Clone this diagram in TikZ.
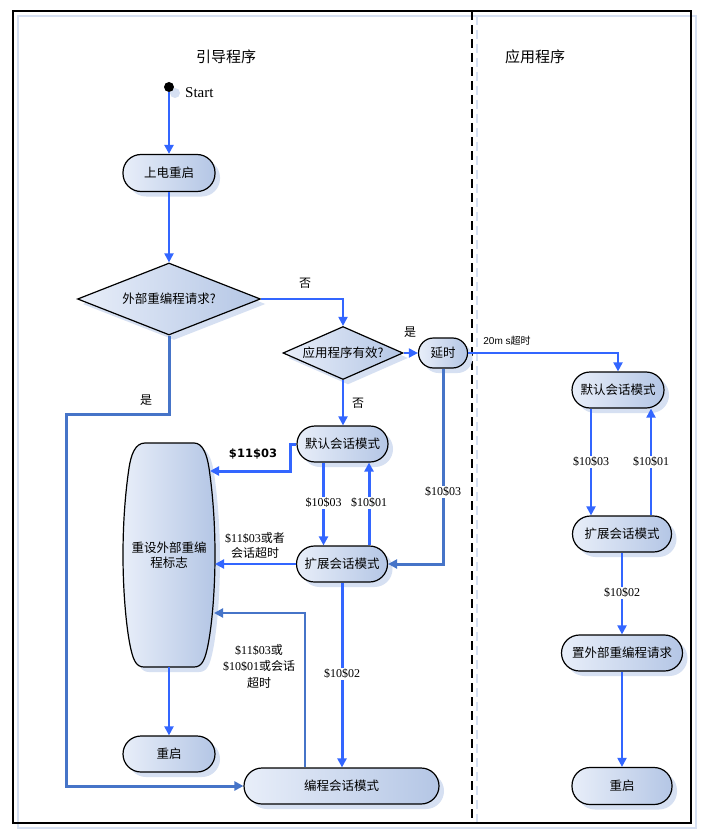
\documentclass[tikz,border=0pt]{standalone}
\usepackage{fontspec}
\setmainfont{Liberation Serif}
\newfontfamily\cjk{Noto Sans CJK SC}
\newfontfamily\dvs{DejaVu Sans}
\newfontfamily\lsans{Liberation Sans}
\usetikzlibrary{shapes.geometric,arrows.meta,shadows,calc}
\definecolor{bblue}{RGB}{51,102,255}
\definecolor{sblue}{RGB}{70,116,200}
\definecolor{shc}{RGB}{214,224,242}
\definecolor{nlight}{RGB}{232,238,249}
\definecolor{ndark}{RGB}{180,198,229}
\begin{document}
\begin{tikzpicture}[x=1pt,y=-1pt,
  nshadow/.style={drop shadow={shadow xshift=5pt,shadow yshift=-5pt,fill=shc,opacity=1}},
  stad/.style={rectangle,rounded corners=#1,draw=black,line width=1.2pt,
    left color=nlight,right color=ndark,nshadow,inner sep=0pt,
    font=\cjk\fontsize{12.5}{15}\selectfont},
  stad/.default=18pt,
  dia/.style={diamond,draw=black,line width=1.2pt,left color=nlight,right color=ndark,
    nshadow,inner sep=0pt,font=\cjk\fontsize{12.5}{15}\selectfont},
  ar/.style={draw=bblue,line width=#1,-{Triangle[length=9pt,width=9pt]}},
  ar/.default=2pt,
  lab/.style={fill=white,inner sep=1pt,font=\fontsize{12}{14}\selectfont},
  tlab/.style={inner sep=0pt,font=\cjk\fontsize{12}{14}\selectfont},
  title/.style={inner sep=0pt,font=\cjk\fontsize{15}{18}\selectfont}
]
\useasboundingbox (0,0) rectangle (707,837);
\fill[white] (0,0) rectangle (707,837);
% lane frame
\draw[shc,line width=1.6pt] (18,16) rectangle (696,828);
\draw[shc,line width=1.6pt,dash pattern=on 9pt off 5pt] (477,16) -- (477,828);
\draw[black,line width=2.6pt] (13,11) rectangle (691,823);
\draw[black,line width=1.5pt,dash pattern=on 9pt off 5pt] (472,11) -- (472,823);
\node[title] (t1) at (226,57) {引导程序};
\node[title] (t2) at (535,57) {应用程序};

% start
\fill[shc] (175,93) circle (5pt);
\node[circle,fill=black,minimum size=10pt,inner sep=0pt] (start) at (169,87) {};
\node[anchor=west,inner sep=0pt,font=\fontsize{15}{17}\selectfont] (stxt) at (185,93) {Start};

% nodes
\node[stad,minimum width=92pt,minimum height=37pt] (ssr) at (169,173) {上电重启};
\node[dia,aspect=2.54,minimum width=183pt,minimum height=72pt] (d1) at (169,299) {外部重编程请求?};
\node[dia,aspect=2.26,minimum width=120pt,minimum height=53pt] (d2) at (343,353) {应用程序有效?};
\node[stad=15pt,minimum width=49pt,minimum height=30pt] (delay) at (443,353) {延时};
\node[stad,minimum width=91pt,minimum height=36pt] (def1) at (342.5,444) {默认会话模式};
\node[stad,minimum width=91pt,minimum height=36pt] (ext1) at (342,564) {扩展会话模式};
\node[stad,minimum width=92pt,minimum height=36pt] (reboot1) at (169,754) {重启};
\node[stad,minimum width=195pt,minimum height=36pt] (prog) at (341.5,786) {编程会话模式};
\node[stad,minimum width=92pt,minimum height=36pt] (def2) at (618,390) {默认会话模式};
\node[stad,minimum width=99pt,minimum height=36pt] (ext2) at (622,534) {扩展会话模式};
\node[stad,minimum width=121pt,minimum height=36pt] (setreq) at (622,653) {置外部重编程请求};
\node[stad,minimum width=100pt,minimum height=37pt] (reboot2) at (622,786) {重启};

% barrel node
\def\barrel{(145,443) -- (194,443) .. controls (203,443) and (207,455) .. (209,468)
 .. controls (213,495) and (215,525) .. (215,555) .. controls (215,590) and (212,625) .. (208,645)
 .. controls (205,660) and (202,667) .. (194,667) -- (144,667) .. controls (136,667) and (133,660) .. (130,645)
 .. controls (126,625) and (123,590) .. (123,555) .. controls (123,525) and (125,495) .. (129,468)
 .. controls (131,455) and (135,443) .. (145,443) -- cycle}
\fill[shc,shift={(5,5)}] \barrel;
\shade[left color=nlight,right color=ndark] \barrel;
\draw[black,line width=1.2pt] \barrel;
\node[align=center,inner sep=0pt,font=\cjk\fontsize{12.5}{15}\selectfont] (reset) at (169,555) {重设外部重编\\程标志};
\coordinate (r1) at (210,471);
\coordinate (r2) at (215,564);
\coordinate (r3) at (214,613);
\coordinate (rb) at (169,667);

% connectors
\draw[ar=2.5pt] (start) -- (ssr);
\draw[ar=2pt] (ssr) -- (d1);
\draw[ar=2pt] (d1.east) -- (d1.east -| d2.north) -- (d2.north);
\coordinate (cy1) at (169,414);
\coordinate (cy2) at (66,414);
\coordinate (cy3) at (66,786);
\draw[ar=3pt,draw=sblue] (d1.south) -- (cy1) -- (cy2) -- (cy3) -- (prog.west);
\draw[ar=2pt] (d2.east) -- (delay.west);
\draw[ar=2pt] (d2.south) -- (d2.south |- def1.north);
\draw[ar=3pt] (def1.west) -- ++(-6,0) |- (r1);
\coordinate (a1) at ([xshift=-19pt]def1.south);
\draw[ar=3pt] (a1) -- (a1 |- ext1.north);
\coordinate (a2) at ([xshift=27pt]ext1.north);
\draw[ar=3pt] (a2) -- (a2 |- def1.south);
\draw[ar=3pt,draw=sblue] (delay.south) |- (ext1.east);
\draw[ar=2pt] (ext1.west) -- (r2);
\draw[ar=3pt] (ext1.south) -- (ext1.south |- prog.north);
\coordinate (a3) at ([xshift=-36.5pt]prog.north);
\draw[ar=2pt,draw=sblue] (a3) |- (r3);
\draw[ar=2pt] (rb) -- (reboot1.north);
\draw[ar=2pt] (delay.east) -| (def2.north);
\coordinate (b1) at ([xshift=-27pt]def2.south);
\draw[ar=2pt] (b1) -- (b1 |- ext2.north);
\coordinate (b2) at ([xshift=29pt]ext2.north);
\draw[ar=2pt] (b2) -- (b2 |- def2.south);
\draw[ar=2pt] (ext2) -- (setreq);
\draw[ar=2pt] (setreq) -- (reboot2);

% labels
\node[tlab] (l1) at (305,283) {否};
\node[tlab] (l2) at (410,332) {是};
\node[tlab] (l3) at (358,403) {否};
\node[tlab] (l4) at (146,400) {是};
\node[inner sep=0pt,font=\dvs\bfseries\fontsize{11.5}{14}\selectfont] (l5) at (253,454) {\$11\$03};
\node[lab] (l6) at (323.5,503) {\$10\$03};
\node[lab] (l7) at (369,503) {\$10\$01};
\node[lab] (l8) at (443,492) {\$10\$03};
\node[align=center,inner sep=0pt,font=\fontsize{12}{15}\selectfont] (l9) at (255,545) {\$11\$03{\cjk 或者}\\{\cjk 会话超时}};
\node[lab] (l10) at (342,674) {\$10\$02};
\node[align=center,inner sep=0pt,font=\fontsize{12}{16.5}\selectfont] (l11) at (259,666) {\$11\$03{\cjk 或}\\\$10\$01{\cjk 或会话}\\{\cjk 超时}};
\node[inner sep=0pt,font=\lsans\fontsize{10}{12}\selectfont] (l12) at (507,341) {20m s{\cjk 超时}};
\node[lab] (l13) at (591,462) {\$10\$03};
\node[lab] (l14) at (651,462) {\$10\$01};
\node[lab] (l15) at (622,593) {\$10\$02};
\end{tikzpicture}
\end{document}
